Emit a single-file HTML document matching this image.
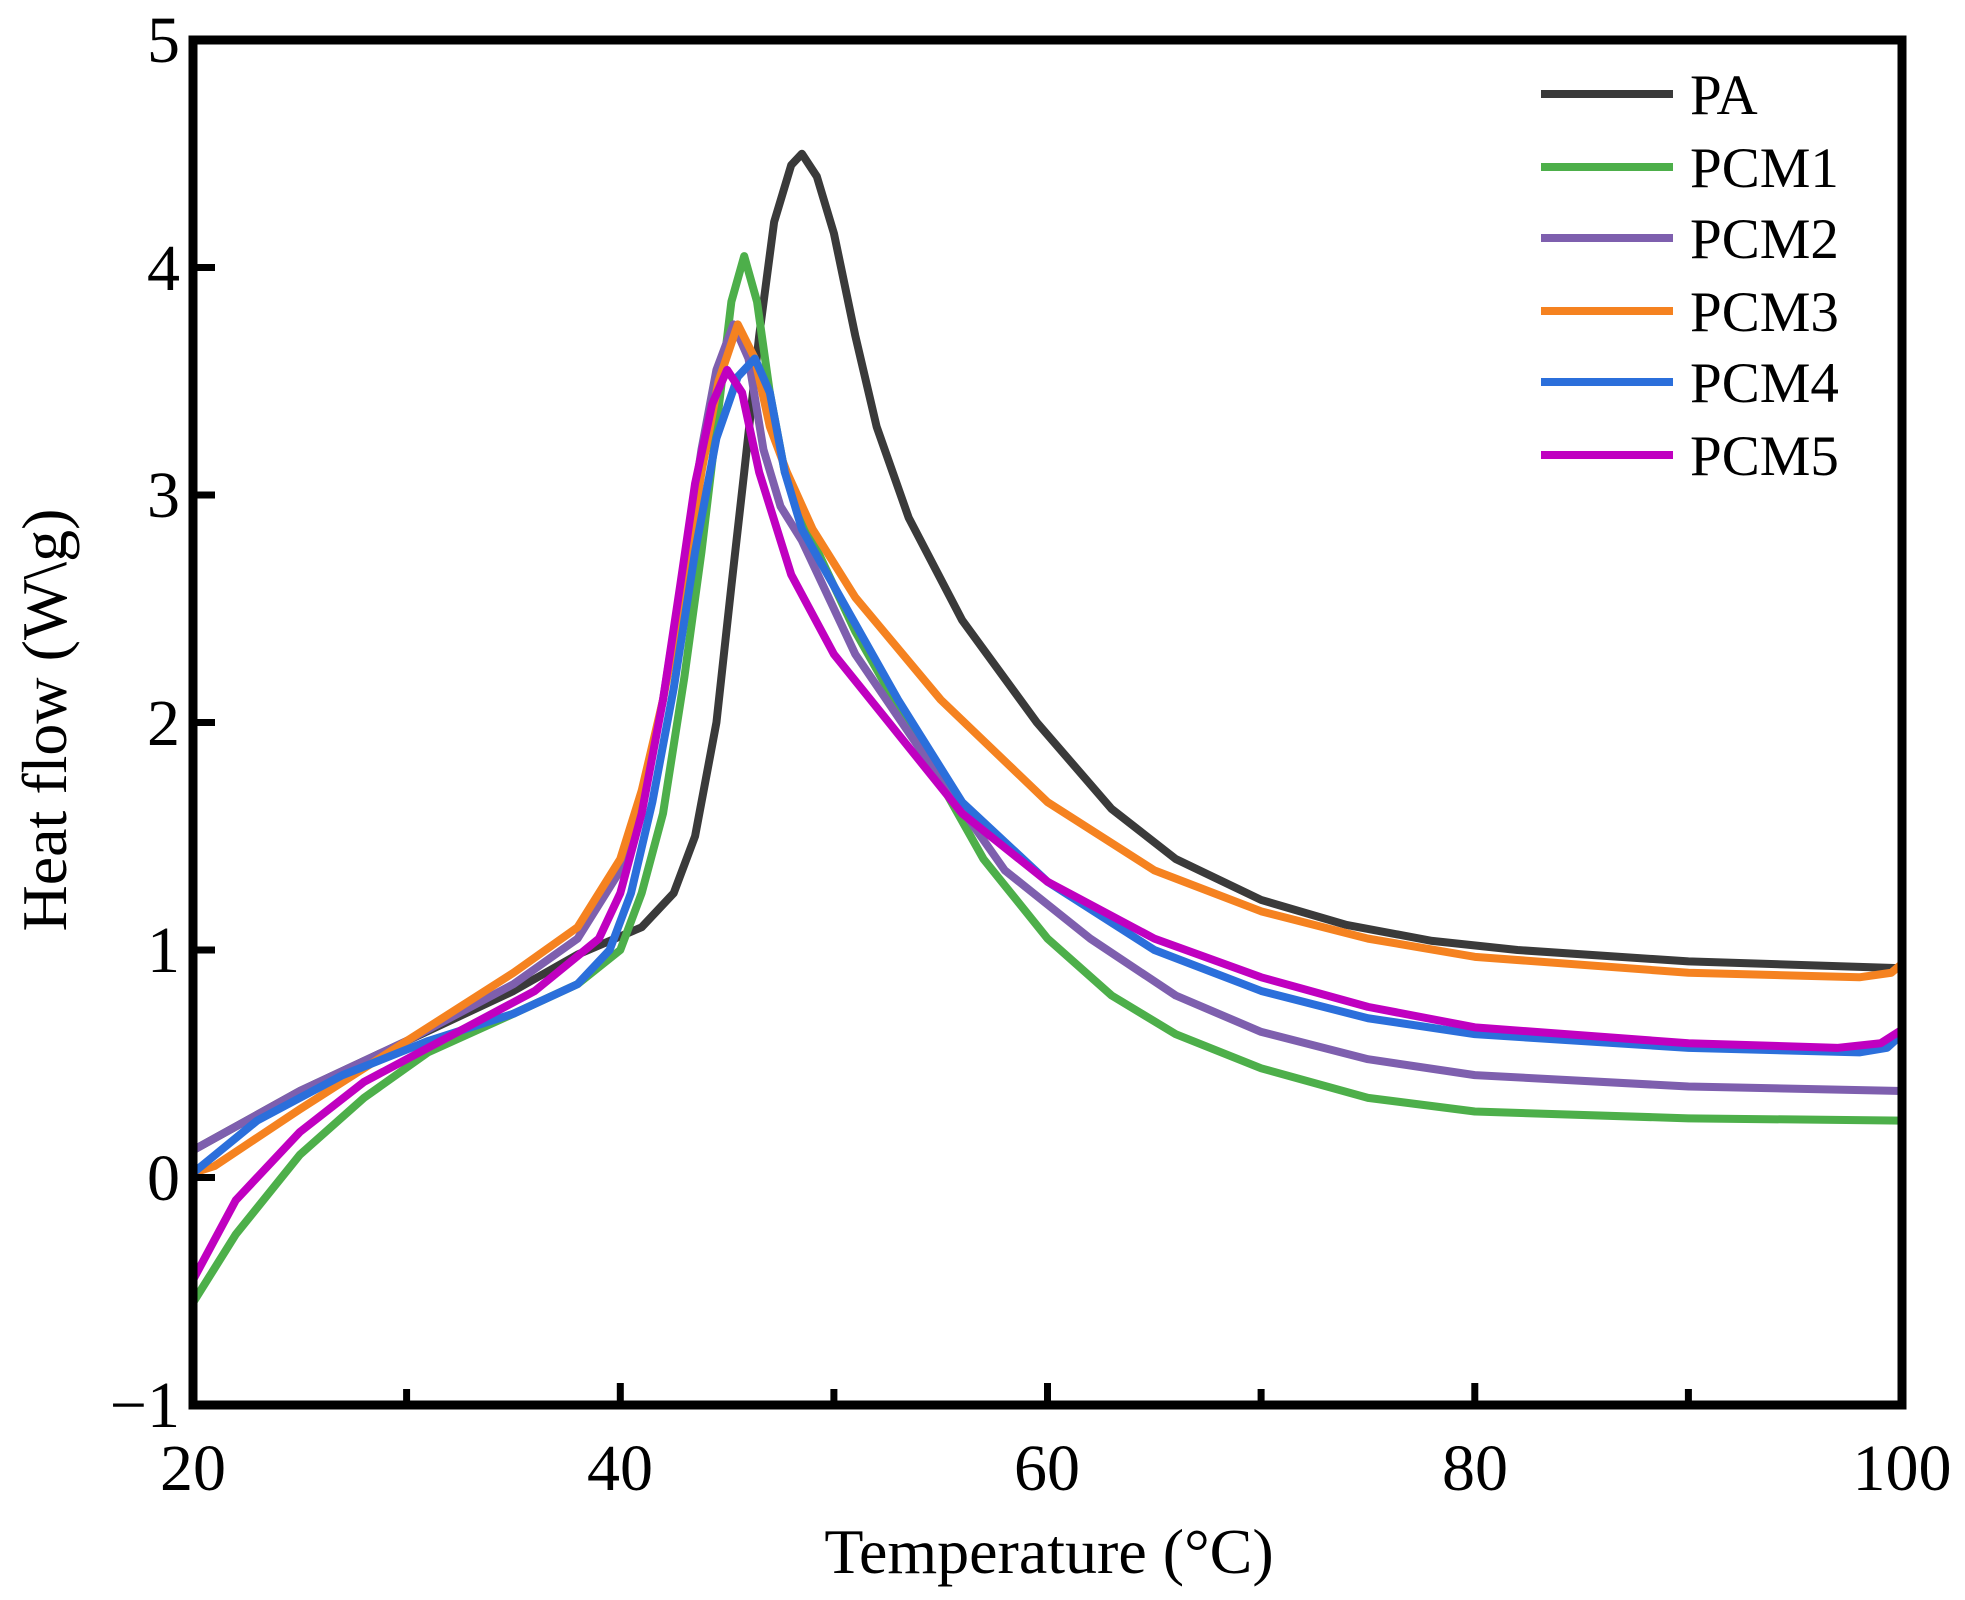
<!DOCTYPE html>
<html><head><meta charset="utf-8"><style>body{margin:0;background:#fff}svg{display:block}text{font-family:"Liberation Serif",serif;fill:#000}</style></head><body>
<svg width="1965" height="1600" viewBox="0 0 1965 1600">
<g transform="translate(-234.2,1177.5) scale(21.3625,-227.5)" fill="none" stroke-width="8" stroke-linejoin="round" stroke-linecap="round">
<polyline vector-effect="non-scaling-stroke" stroke="#3a3a3a" points="20,0.12 25,0.38 30,0.6 35,0.82 38,0.98 41,1.1 42.5,1.25 43.5,1.5 44.5,2.0 45.2,2.6 45.8,3.1 46.5,3.7 47.2,4.2 48,4.45 48.5,4.5 49.2,4.4 50,4.15 51,3.7 52,3.3 53.5,2.9 56,2.45 59.5,2.0 63,1.62 66,1.4 70,1.22 74,1.11 78,1.04 82,1.0 90,0.95 100,0.92"/>
<polyline vector-effect="non-scaling-stroke" stroke="#4daf4a" points="20,-0.55 22,-0.25 25,0.1 28,0.35 31,0.55 35,0.72 38,0.85 40,1.0 41,1.25 42,1.6 43,2.2 43.8,2.75 44.5,3.3 45.2,3.85 45.8,4.05 46.4,3.85 47,3.45 47.7,3.1 49,2.8 51,2.4 54,1.9 57,1.4 60,1.05 63,0.8 66,0.63 70,0.48 75,0.35 80,0.29 90,0.26 100,0.25"/>
<polyline vector-effect="non-scaling-stroke" stroke="#7e5fae" points="20,0.12 25,0.38 30,0.6 35,0.85 38,1.05 40,1.35 41,1.65 42,2.1 43,2.7 43.8,3.2 44.5,3.55 45.3,3.75 46,3.6 46.7,3.2 47.5,2.95 48.5,2.8 51,2.3 55,1.75 58,1.35 62,1.05 66,0.8 70,0.64 75,0.52 80,0.45 90,0.4 100,0.38"/>
<polyline vector-effect="non-scaling-stroke" stroke="#f58220" points="20,0.02 21,0.05 25,0.3 30,0.6 35,0.9 38,1.1 40,1.4 41,1.7 42,2.1 43,2.6 43.8,3.1 44.6,3.5 45.5,3.75 46.3,3.6 47,3.3 47.8,3.1 49,2.85 51,2.55 55,2.1 60,1.65 65,1.35 70,1.17 75,1.05 80,0.97 90,0.9 98,0.88 99.5,0.9 100,0.94"/>
<polyline vector-effect="non-scaling-stroke" stroke="#2b6fdb" points="20,0.02 23,0.25 27,0.45 31,0.6 35,0.72 38,0.85 39.5,1.0 40.5,1.25 41.5,1.65 42.5,2.15 43.5,2.75 44.5,3.25 45.5,3.52 46.3,3.6 47,3.45 47.7,3.1 48.5,2.85 50,2.6 53,2.1 56,1.65 60,1.3 65,1.0 70,0.82 75,0.7 80,0.63 90,0.57 98,0.55 99.3,0.57 100,0.63"/>
<polyline vector-effect="non-scaling-stroke" stroke="#c000c0" points="20,-0.45 22,-0.1 25,0.2 28,0.42 32,0.62 36,0.82 39,1.05 40,1.25 41,1.6 42,2.1 42.8,2.6 43.5,3.05 44.3,3.4 45,3.55 45.7,3.45 46.5,3.1 48,2.65 50,2.3 53,1.95 56,1.6 60,1.3 65,1.05 70,0.88 75,0.75 80,0.66 90,0.59 97,0.57 99,0.59 100,0.65"/>
</g>
<rect x="193" y="40" width="1709" height="1365" fill="none" stroke="#000" stroke-width="9"/>
<g stroke="#000" stroke-width="7">
<path d="M193,267.5h22M193,495h22M193,722.5h22M193,950h22M193,1177.5h22"/>
<path d="M406.6,1405v-16M620.3,1405v-22M833.9,1405v-16M1047.5,1405v-22M1261.1,1405v-16M1474.8,1405v-22M1688.4,1405v-16"/>
</g>
<g font-size="66" text-anchor="end">
<text x="180" y="62">5</text><text x="180" y="290">4</text><text x="180" y="517">3</text><text x="180" y="745">2</text><text x="180" y="972">1</text><text x="180" y="1200">0</text><text x="180" y="1427">−1</text>
</g>
<g font-size="66" text-anchor="middle">
<text x="193" y="1490">20</text><text x="620" y="1490">40</text><text x="1047" y="1490">60</text><text x="1475" y="1490">80</text><text x="1902" y="1490">100</text>
</g>
<text x="1049" y="1573" font-size="64" text-anchor="middle">Temperature (°C)</text>
<text transform="translate(66,720) rotate(-90)" font-size="64" text-anchor="middle">Heat flow (W\g)</text>
<g stroke-width="8">
<path d="M1541,94h132" stroke="#3a3a3a"/><path d="M1541,167h132" stroke="#4daf4a"/><path d="M1541,238h132" stroke="#7e5fae"/><path d="M1541,311h132" stroke="#f58220"/><path d="M1541,382h132" stroke="#2b6fdb"/><path d="M1541,455h132" stroke="#c000c0"/>
</g>
<g font-size="57">
<text x="1690" y="114">PA</text><text x="1690" y="187">PCM1</text><text x="1690" y="258">PCM2</text><text x="1690" y="331">PCM3</text><text x="1690" y="402">PCM4</text><text x="1690" y="475">PCM5</text>
</g>
</svg>
</body></html>
